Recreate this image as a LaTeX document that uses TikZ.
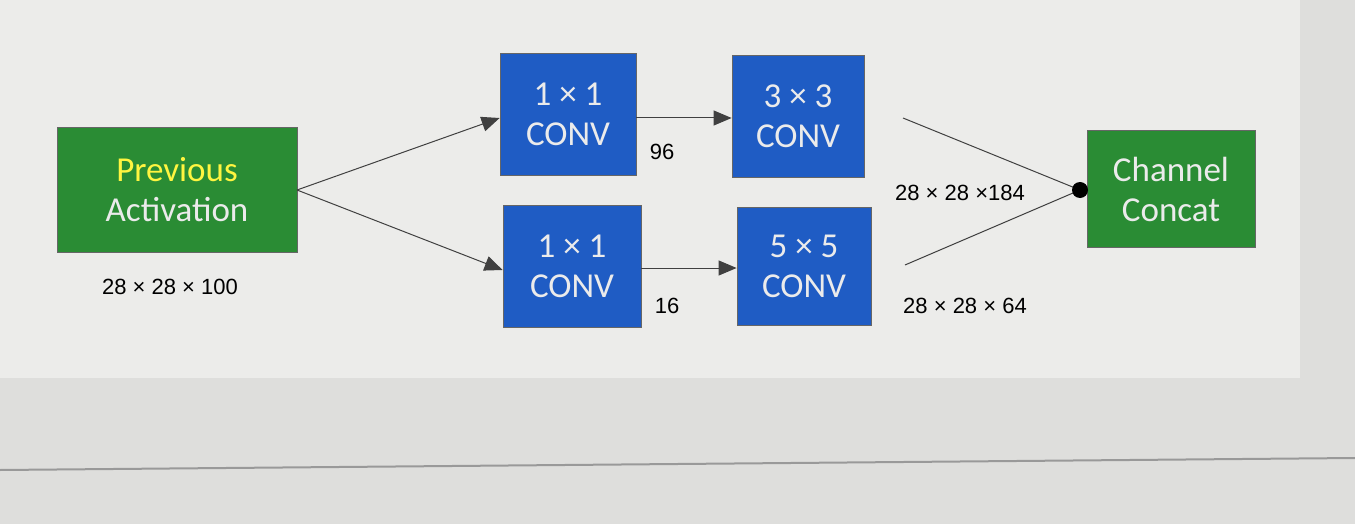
\documentclass[tikz,border=0pt]{standalone}
\usepackage{fontspec}
\setmainfont{Carlito}
\newfontfamily\arial{Liberation Sans}
\usetikzlibrary{arrows.meta}
\definecolor{bgc}{HTML}{DEDEDC}
\definecolor{slide}{HTML}{ECECEA}
\definecolor{bl}{HTML}{1F5CC4}
\definecolor{gr}{HTML}{2A8C34}
\tikzset{
 box/.style={draw=black!60, line width=0.8pt, text=white!92!black, font=\fontsize{35}{40}\selectfont, align=center, inner sep=0pt},
 conv/.style={box, fill=bl, minimum width=136, minimum height=122},
 grn/.style={box, fill=gr},
 lbl/.style={font=\arial\fontsize{22}{26}\selectfont, text=black},
 con/.style={draw=black!75, line width=1pt},
 arr/.style={con, -{Triangle[length=18pt,width=15pt]}}
}
\begin{document}
\begin{tikzpicture}[x=1pt,y=-1pt]
\fill[bgc] (0,0) rectangle (1355,524);
\useasboundingbox (0,0) rectangle (1355,524);
\fill[slide] (0,0) rectangle (1300,378);
\draw[black!40, line width=2pt] (0,470) -- (1355,458);
\node[grn, minimum width=240, minimum height=125] (prev) at (177,190) {\textcolor{yellow!75!white}{Previous}\\Activation};
\node[lbl] (l100) at (170,287) {28 × 28 × 100};
\node[conv] (c1a) at (568,114) {1 × 1\\CONV};
\node[conv, minimum width=132] (c3) at (798,116) {3 × 3\\CONV};
\node[conv, minimum width=138] (c1b) at (572,266) {1 × 1\\CONV};
\node[conv, minimum width=134, minimum height=118] (c5) at (804,266) {5 × 5\\CONV};
\node[grn, minimum width=168, minimum height=117] (cc) at (1171,189) {Channel\\Concat};
\node[lbl] (n96) at (662,152) {96};
\node[lbl] (n16) at (667,306) {16};
\node[lbl] (l184) at (960,193) {28 × 28 ×184};
\node[lbl] (l64) at (965,306) {28 × 28 × 64};
\coordinate (split) at (297,190);
\coordinate (t3) at (903,118);
\coordinate (t5) at (905,265);
\coordinate (join) at (1080,190);
\draw[arr] (split) -- (c1a.west|-0,118);
\draw[arr] (split) -- (c1b.west|-0,270);
\draw[arr] (c1a.east|-0,118) -- (c3.west|-0,118);
\draw[arr] (c1b.east|-0,268) -- (c5.west|-0,268);
\draw[con] (t3) -- (join);
\draw[con] (t5) -- (join);
\fill[black] (join) circle (8pt);
\end{tikzpicture}
\end{document}
